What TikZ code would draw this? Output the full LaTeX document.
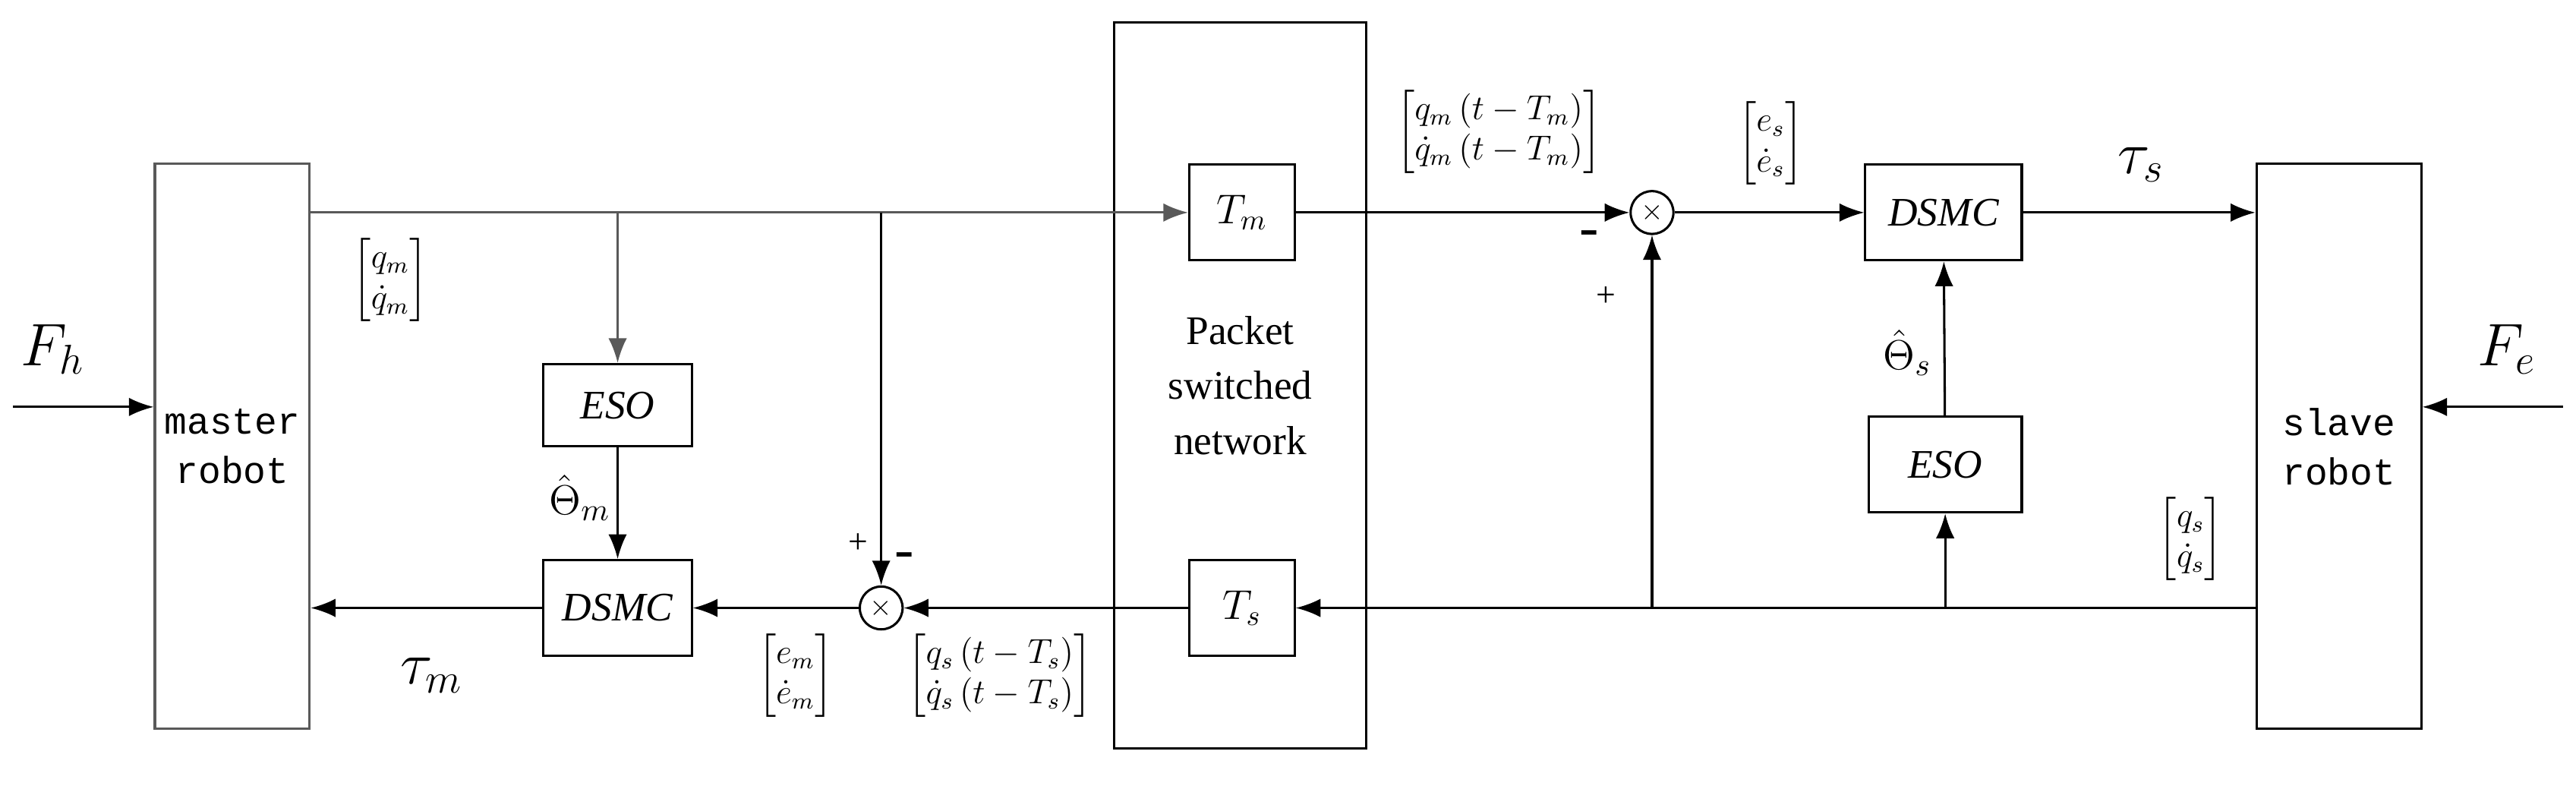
\documentclass[tikz,border=0pt]{standalone}
\usepackage{amsmath}
\usepackage{fontspec}
\setmainfont{Liberation Serif}
\setmonofont{Liberation Mono}
\usetikzlibrary{positioning}
\usetikzlibrary{arrows.meta}

\begin{document}
\begin{tikzpicture}
    [
    x=0.02cm, y=-0.02cm,
    block/.style={draw, thick, rectangle, inner sep=0pt, font=\fontsize{14}{16}\selectfont\itshape},
    robot/.style={draw, thick, rectangle, align=center, font=\fontsize{13}{17}\selectfont\ttfamily},
    sum/.style={draw, thick, circle, minimum size=0.52cm, inner sep=0pt},
    link/.style={thick, -{Latex[length=3mm]}},
    greylink/.style={thick, draw=black!65, -{Latex[length=3mm]}},
    lbl/.style={font=\fontsize{12}{14}\selectfont},
    big/.style={font=\fontsize{20}{22}\selectfont},
    hat/.style={font=\fontsize{15}{17}\selectfont},
    ]
    \useasboundingbox (0,0) rectangle (1564,477);

    % robots and network
    \node[robot, draw=black!65, minimum width=1.86cm, minimum height=6.86cm] (master) at (141,271) {master\\robot};
    \node[robot, minimum width=2.0cm, minimum height=6.86cm] (slave) at (1420,271) {slave\\robot};
    \node[draw, thick, minimum width=3.06cm, minimum height=8.82cm, align=center,
          font=\fontsize{14}{19}\selectfont] (net) at (753,234) {Packet\\switched\\network};

    % blocks
    \node[block, minimum width=1.28cm, minimum height=1.16cm] (delay_m) at (754,129) {$T_m$};
    \node[block, minimum width=1.28cm, minimum height=1.16cm] (delay_s) at (754,369) {$T_s$};
    \node[block, minimum width=1.8cm, minimum height=1.0cm] (eso_m) at (375,246) {ESO};
    \node[block, minimum width=1.8cm, minimum height=1.16cm] (dsmc_m) at (375,369) {DSMC};
    \node[block, minimum width=1.9cm, minimum height=1.16cm] (dsmc_s) at (1180,129) {DSMC};
    \node[block, minimum width=1.86cm, minimum height=1.16cm] (eso_s) at (1181,282) {ESO};
    \node[sum] (sum_m) at (535,369) {$\times$};
    \node[sum] (sum_s) at (1003,129) {$\times$};

    % branch points
    \coordinate (tap_eso_m) at (375,129);
    \coordinate (tap_sum_m) at (535,129);
    \coordinate (tap_sum_s) at (1003,369);
    \coordinate (tap_eso_s) at (1181,369);
    \coordinate (fh_in) at (8,247);
    \coordinate (fe_in) at (1556,247);

    % master side
    \draw[greylink] (master.east |- delay_m) -- (delay_m);
    \draw[greylink] (tap_eso_m) -- (eso_m);
    \draw[link] (tap_sum_m) -- (sum_m);
    \draw[link] (eso_m) -- (dsmc_m);
    \draw[link] (delay_s) -- (sum_m);
    \draw[link] (sum_m) -- (dsmc_m);
    \draw[link] (dsmc_m.west) -- (master.east |- dsmc_m);
    \draw[link] (fh_in) -- (fh_in -| master.west);

    % slave side
    \draw[link] (delay_m) -- (sum_s);
    \draw[link] (sum_s) -- (dsmc_s);
    \draw[link] (dsmc_s) -- (dsmc_s -| slave.west);
    \draw[link] (slave.west |- delay_s) -- (delay_s);
    \draw[link] (tap_sum_s) -- (sum_s);
    \draw[link] (tap_eso_s) -- (eso_s);
    \draw[link] (eso_s) -- (dsmc_s);
    \draw[link] (fe_in) -- (fe_in -| slave.east);

    % labels
    \node[big] at (32,212) {$F_h$};
    \node[big] at (1522,212) {$F_e$};
    \node[big] at (262,410) {$\tau_m$};
    \node[big] at (1300,100) {$\tau_s$};
    \node[lbl] at (237,170) {$\begin{bmatrix} q_m\\ \dot q_m\end{bmatrix}$};
    \node[lbl] at (1330,327) {$\begin{bmatrix} q_s\\ \dot q_s\end{bmatrix}$};
    \node[lbl] at (483,410) {$\begin{bmatrix} e_m\\ \dot e_m\end{bmatrix}$};
    \node[lbl] at (1075,87) {$\begin{bmatrix} e_s\\ \dot e_s\end{bmatrix}$};
    \node[lbl] at (607,410) {$\begin{bmatrix} q_s\left(t-T_s\right)\\ \dot q_s\left(t-T_s\right)\end{bmatrix}$};
    \node[lbl] at (910,80) {$\begin{bmatrix} q_m\left(t-T_m\right)\\ \dot q_m\left(t-T_m\right)\end{bmatrix}$};
    \node[hat] at (352,302) {$\hat\Theta_m$};
    \node[hat] at (1158,214) {$\hat\Theta_s$};
    \node[lbl] at (521,330) {+};
    \node[big] at (549,340) {-};
    \node[big] at (965,145) {-};
    \node[lbl] at (975,180) {+};
\end{tikzpicture}
\end{document}
